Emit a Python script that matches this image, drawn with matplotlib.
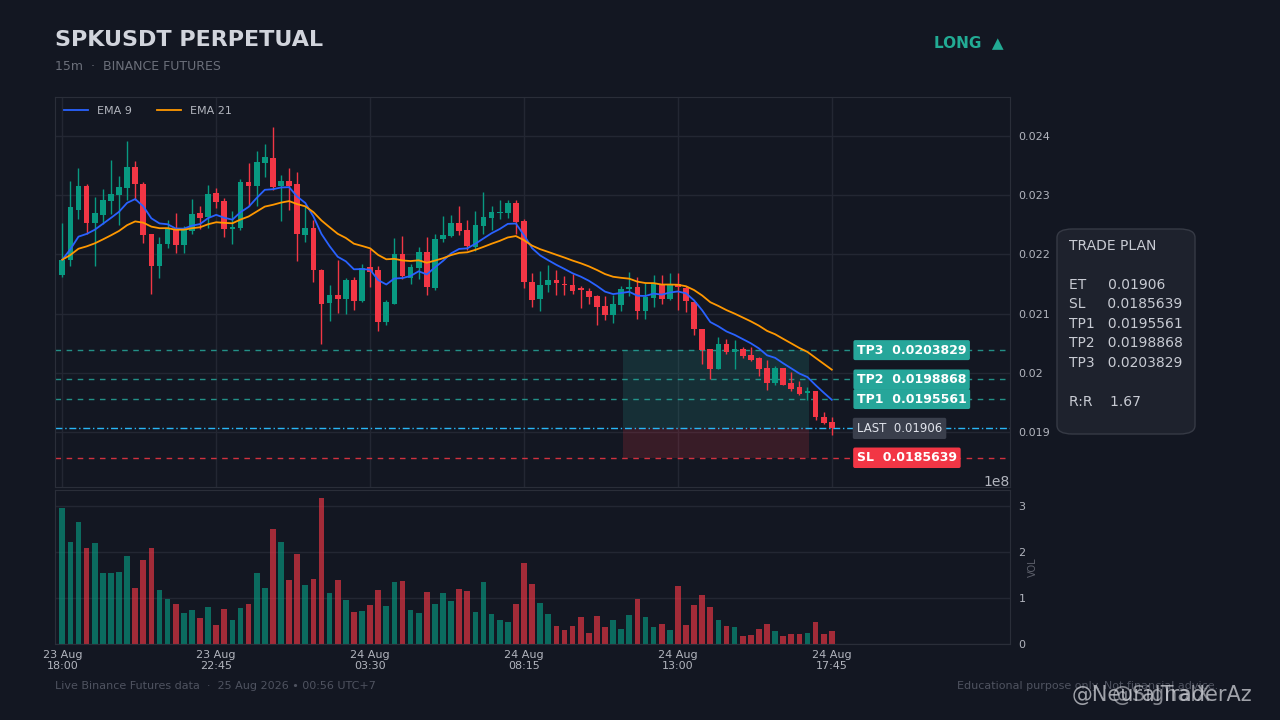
import matplotlib
matplotlib.use("Agg")
import matplotlib.pyplot as plt
from matplotlib.patches import FancyBboxPatch
from matplotlib.ticker import FuncFormatter, MultipleLocator
import numpy as np
import pandas as pd

# 15m candles, SPKUSDT perp
opens = [0.021644, 0.021910, 0.022746, 0.023152, 0.022531, 0.022661, 0.022904, 0.023006, 0.023119, 0.023475,
         0.023186, 0.022350, 0.021802, 0.022170, 0.022435, 0.022152, 0.022395, 0.022695, 0.022633, 0.023040,
         0.022904, 0.022424, 0.022441, 0.023220, 0.023158, 0.023548, 0.023633, 0.023152, 0.023249, 0.023186,
         0.022322, 0.022441, 0.021729, 0.021175, 0.021322, 0.021243, 0.021576, 0.021220, 0.021780, 0.021729,
         0.020864, 0.021158, 0.022000, 0.021604, 0.021768, 0.022034, 0.021429, 0.022254, 0.022311, 0.022537,
         0.022407, 0.022124, 0.022475, 0.022616, 0.022695, 0.022695, 0.022864, 0.022559, 0.021542, 0.021243,
         0.021475, 0.021576, 0.021503, 0.021491, 0.021429, 0.021390, 0.021305, 0.021136, 0.020983, 0.021152,
         0.021418, 0.021446, 0.021040, 0.021265, 0.021491, 0.021242, 0.021495, 0.021438, 0.021202, 0.020747,
         0.020399, 0.020067, 0.020494, 0.020359, 0.020410, 0.020298, 0.020247, 0.020078, 0.019831, 0.020078,
         0.019825, 0.019752, 0.019651, 0.019696, 0.019252, 0.019168]
highs = [0.022531, 0.023243, 0.023463, 0.023198, 0.022972, 0.023107, 0.023593, 0.023328, 0.023921, 0.023571,
         0.023226, 0.022350, 0.022294, 0.022588, 0.022706, 0.022474, 0.022938, 0.022825, 0.023175, 0.023130,
         0.022960, 0.022734, 0.023277, 0.023537, 0.023751, 0.023864, 0.024147, 0.023350, 0.023463, 0.023395,
         0.022814, 0.022576, 0.021757, 0.021480, 0.021898, 0.021604, 0.021616, 0.021842, 0.022096, 0.021802,
         0.021232, 0.022282, 0.022316, 0.021842, 0.022124, 0.022294, 0.022339, 0.022650, 0.022667, 0.022819,
         0.022588, 0.022734, 0.023057, 0.022814, 0.022915, 0.022927, 0.022915, 0.022605, 0.021684, 0.021717,
         0.021814, 0.021740, 0.021633, 0.021673, 0.021458, 0.021435, 0.021316, 0.021305, 0.021322, 0.021458,
         0.021700, 0.021616, 0.021514, 0.021644, 0.021644, 0.021686, 0.021686, 0.021461, 0.021214, 0.020747,
         0.020410, 0.020607, 0.020573, 0.020550, 0.020438, 0.020438, 0.020270, 0.020224, 0.020123, 0.020089,
         0.020017, 0.019865, 0.019752, 0.019696, 0.019331, 0.019247]
lows = [0.021616, 0.021797, 0.022604, 0.022350, 0.021797, 0.022520, 0.022689, 0.022491, 0.022915, 0.022915,
        0.022192, 0.021333, 0.021604, 0.022113, 0.022023, 0.022023, 0.022350, 0.022435, 0.022452, 0.022791,
        0.022294, 0.022170, 0.022407, 0.022814, 0.022814, 0.023311, 0.023085, 0.022559, 0.022757, 0.021881,
        0.022203, 0.021537, 0.020486, 0.020881, 0.021006, 0.020994, 0.021062, 0.021192, 0.021446, 0.020700,
        0.020813, 0.021158, 0.021588, 0.021503, 0.021588, 0.021322, 0.021407, 0.022203, 0.022294, 0.022333,
        0.022068, 0.022056, 0.022350, 0.022407, 0.022605, 0.022621, 0.022350, 0.021435, 0.021107, 0.021051,
        0.021373, 0.021322, 0.021316, 0.021333, 0.021096, 0.021164, 0.020813, 0.020893, 0.020836, 0.021040,
        0.021305, 0.020910, 0.020915, 0.021107, 0.021164, 0.021225, 0.021056, 0.021028, 0.020635, 0.020146,
        0.019887, 0.020067, 0.020309, 0.020056, 0.020258, 0.020196, 0.019943, 0.019707, 0.019786, 0.019786,
        0.019685, 0.019623, 0.019539, 0.019202, 0.019140, 0.018943]
closes = [0.021910, 0.022797, 0.023152, 0.022531, 0.022695, 0.022915, 0.023017, 0.023136, 0.023475, 0.023192,
          0.022322, 0.021797, 0.022181, 0.022452, 0.022152, 0.022424, 0.022689, 0.022621, 0.023017, 0.022887,
          0.022424, 0.022458, 0.023220, 0.023158, 0.023559, 0.023644, 0.023141, 0.023249, 0.023158, 0.022339,
          0.022441, 0.021729, 0.021158, 0.021322, 0.021243, 0.021576, 0.021209, 0.021768, 0.021700, 0.020864,
          0.021192, 0.022000, 0.021627, 0.021780, 0.022034, 0.021446, 0.022254, 0.022333, 0.022525, 0.022395,
          0.022141, 0.022492, 0.022627, 0.022712, 0.022712, 0.022864, 0.022548, 0.021531, 0.021232, 0.021491,
          0.021576, 0.021514, 0.021475, 0.021390, 0.021401, 0.021277, 0.021119, 0.020983, 0.021164, 0.021424,
          0.021446, 0.021040, 0.021277, 0.021503, 0.021249, 0.021495, 0.021450, 0.021214, 0.020747, 0.020382,
          0.020067, 0.020494, 0.020354, 0.020410, 0.020286, 0.020213, 0.020067, 0.019831, 0.020078, 0.019792,
          0.019730, 0.019640, 0.019685, 0.019247, 0.019157, 0.019060]
volumes = np.array([2.96, 2.22, 2.66, 2.09, 2.20, 1.55, 1.55, 1.57, 1.92, 1.22,
                    1.83, 2.09, 1.18, 0.98, 0.87, 0.68, 0.74, 0.57, 0.81, 0.41,
                    0.76, 0.52, 0.78, 0.87, 1.55, 1.22, 2.50, 2.22, 1.39, 1.96,
                    1.28, 1.42, 3.18, 1.11, 1.39, 0.96, 0.70, 0.72, 0.85, 1.18,
                    0.83, 1.35, 1.37, 0.74, 0.68, 1.13, 0.87, 1.11, 0.94, 1.20,
                    1.15, 0.70, 1.35, 0.65, 0.52, 0.48, 0.87, 1.76, 1.31, 0.89,
                    0.65, 0.39, 0.30, 0.39, 0.59, 0.24, 0.61, 0.37, 0.52, 0.33,
                    0.63, 0.98, 0.59, 0.37, 0.44, 0.30, 1.26, 0.41, 0.85, 1.07,
                    0.81, 0.52, 0.39, 0.37, 0.17, 0.20, 0.33, 0.44, 0.28, 0.17,
                    0.22, 0.22, 0.24, 0.48, 0.22, 0.28]) * 1e8

times = pd.date_range("2026-08-23 18:00", periods=len(closes), freq="15min")

entry = 0.01906
stop = 0.0185639
tp1 = 0.0195561
tp2 = 0.0198868
tp3 = 0.0203829
rr = 1.67
zone_start, zone_end = 69.2, 92.2

BG = "#131722"
GRID = "#232733"
SPINE = "#2a2e39"
TXT = "#b2b5be"
UP = "#089981"
DOWN = "#f23645"

df = pd.DataFrame({"o": opens, "h": highs, "l": lows, "c": closes, "v": volumes}, index=times)
df["ema9"] = df["c"].ewm(span=9, adjust=False).mean()
df["ema21"] = df["c"].ewm(span=21, adjust=False).mean()
x = np.arange(len(df))
up = df["c"] >= df["o"]
cols = np.where(up, UP, DOWN)

fig = plt.figure(figsize=(12.8, 7.2), dpi=100, facecolor=BG)
ax = fig.add_axes([55/1280, 1-487/720, 955/1280, 390/720], facecolor=BG)
axv = fig.add_axes([55/1280, 1-644/720, 955/1280, 154/720], facecolor=BG, sharex=ax)

# zones
ax.fill_between([zone_start, zone_end], entry, tp3, color="#26a69a", alpha=0.17, lw=0, zorder=1)
ax.fill_between([zone_start, zone_end], stop, entry, color=DOWN, alpha=0.17, lw=0, zorder=1)

# candles
ax.vlines(x, df["l"], df["h"], colors=cols, lw=1, zorder=3)
body = np.maximum((df["c"] - df["o"]).abs(), 0.000012)
ax.bar(x, body, bottom=np.minimum(df["o"], df["c"]), width=0.7, color=cols, lw=0, zorder=4)

ax.plot(x, df["ema9"], color="#2962ff", lw=1.3, label="EMA 9", zorder=5)
ax.plot(x, df["ema21"], color="#ff9800", lw=1.3, label="EMA 21", zorder=5)

# levels
for lvl, name in [(tp3, "TP3"), (tp2, "TP2"), (tp1, "TP1")]:
    ax.axhline(lvl, color="#26a69a", lw=1, ls=(0, (4, 4)), alpha=0.85, zorder=2)
    ax.text(98.1, lvl, f"{name}  {lvl}", color="white", fontsize=9, fontweight="bold", va="center", ha="left",
            zorder=6, bbox=dict(boxstyle="round,pad=0.28,rounding_size=0.15", fc="#26a69a", ec="none"))
ax.axhline(entry, color="#29b6f6", lw=1, ls=(0, (5, 2, 1, 2)), zorder=2)
ax.text(98.1, entry, f"LAST  {entry}", color="#e0e3eb", fontsize=8.5, va="center", ha="left", zorder=6,
        bbox=dict(boxstyle="round,pad=0.35,rounding_size=0.15", fc="#3a3f4c", ec="none"))
ax.axhline(stop, color=DOWN, lw=1, ls=(0, (4, 4)), alpha=0.85, zorder=2)
ax.text(98.1, stop, f"SL  {stop}", color="white", fontsize=9, fontweight="bold", va="center", ha="left",
        zorder=6, bbox=dict(boxstyle="round,pad=0.3,rounding_size=0.15", fc=DOWN, ec="none"))

ax.set_xlim(-0.9, 117.0)
ax.set_ylim(0.01807, 0.02466)
ax.yaxis.tick_right()
ax.yaxis.set_major_locator(MultipleLocator(0.001))
ax.yaxis.set_major_formatter(FuncFormatter(lambda v, p: f"{v:g}"))
ticks = x[::19]
ax.set_xticks(ticks)
ax.tick_params(axis="x", labelbottom=False, length=0)
ax.tick_params(axis="y", colors=TXT, labelsize=8, length=0, pad=6)
ax.grid(True, color=GRID, lw=1)
ax.set_axisbelow(True)
for s in ax.spines.values():
    s.set_color(SPINE)
leg = ax.legend(loc="upper left", ncol=2, frameon=False, fontsize=8, labelcolor=TXT,
                handlelength=2.2, columnspacing=2.2, borderaxespad=0.4)

# volume
axv.bar(x, df["v"], width=0.7, color=cols, alpha=0.65, lw=0)
axv.set_ylim(0, 3.35e8)
axv.yaxis.tick_right()
axv.yaxis.set_label_position("right")
axv.set_ylabel("VOL", color="#5d606b", fontsize=7, labelpad=2)
axv.yaxis.set_major_locator(MultipleLocator(1e8))
axv.yaxis.get_offset_text().set_color(TXT)
axv.yaxis.get_offset_text().set_fontsize(10)
axv.set_xticks(ticks)
axv.set_xticklabels([t.strftime("%d %b\n%H:%M") for t in df.index[ticks]])
axv.tick_params(axis="x", colors=TXT, labelsize=8, length=0, pad=4)
axv.tick_params(axis="y", colors=TXT, labelsize=8, length=0, pad=6)
axv.grid(True, axis="y", color=GRID, lw=1)
axv.set_axisbelow(True)
for s in axv.spines.values():
    s.set_color(SPINE)

# header
fig.text(55/1280, 1-40/720, "SPKUSDT PERPETUAL", color="#d1d4dc", fontsize=16, fontweight="bold", va="center")
fig.text(55/1280, 1-66/720, "15m  ·  BINANCE FUTURES", color="#6b6f7a", fontsize=9, va="center")
fig.text(1004/1280, 1-43/720, "LONG  ▲", color="#22ab94", fontsize=11, fontweight="bold", va="center", ha="right")

# trade plan box
box = FancyBboxPatch((1057/1280, 1-434/720), 138/1280, 205/720, transform=fig.transFigure,
                     boxstyle="round,pad=0,rounding_size=0.012", fc="#1e222d", ec="#363a45", lw=1)
fig.patches.append(box)
plan = (f"TRADE PLAN\n\nET     {entry}\nSL     {stop}\nTP1   {tp1}\nTP2   {tp2}\nTP3   {tp3}\n\nR:R    {rr}")
fig.text(1069/1280, 1-239/720, plan, color="#c8cbd3", fontsize=10, va="top", ha="left", linespacing=1.5)

# footer
fig.text(55/1280, 1-686/720, "Live Binance Futures data  ·  25 Aug 2026 • 00:56 UTC+7", color="#4f5360",
         fontsize=8, va="center")
fig.text(1218/1280, 1-686/720, "Educational purpose only. Not financial advice.", color="#4f5360",
         fontsize=8, va="center", ha="right")
fig.text(1072/1280, 1-695/720, "@NeuralTraderAz", color="#d0d2d8", alpha=0.75, fontsize=15, va="center")
fig.text(1112/1280, 1-695/720, "@SignalX", color="#d0d2d8", alpha=0.6, fontsize=15, va="center")

fig.savefig("out.png", dpi=100, facecolor=BG)
